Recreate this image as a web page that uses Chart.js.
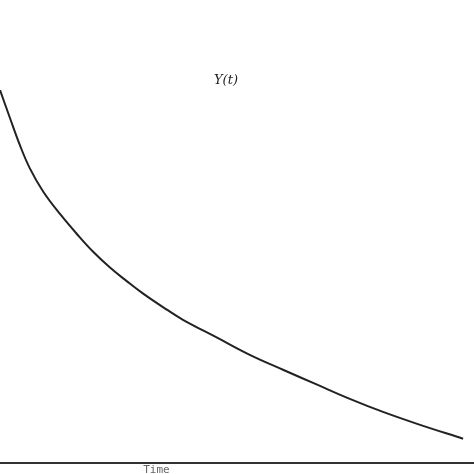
<!DOCTYPE html>
<html>
<head>
<title>Y(t)</title>
<script src="https://cdn.jsdelivr.net/npm/chart.js"></script>
<style>
  html, body { margin: 0; padding: 0; background: #fff; }
  #wrap { width: 474px; height: 474px; }
</style>
</head>
<body>
<div id="wrap"><canvas id="myChart"></canvas></div>
<script>
  // Werte
  const zeit = [0, 0.21, 0.42, 0.63, 0.91, 1.27, 1.65, 1.96, 2.32, 2.68, 3.02, 3.52, 3.86, 4.58, 5.27, 5.97, 6.69, 7.38, 8.08, 8.80, 9.77];
  const yWerte = [1.000, 0.925, 0.852, 0.790, 0.728, 0.667, 0.610, 0.567, 0.524, 0.487, 0.454, 0.411, 0.384, 0.336, 0.290, 0.250, 0.210, 0.172, 0.137, 0.105, 0.065];
  const titel = 'Y(t)';
  const xTitel = 'Time';

  // Titel und Achsenbeschriftung selbst zeichnen
  const beschriftung = {
    id: 'beschriftung',
    afterDraw(chart) {
      const c = chart.ctx;
      c.save();
      c.fillStyle = '#222';
      c.font = 'italic 13px "DejaVu Serif"';
      c.textAlign = 'center';
      c.textBaseline = 'middle';
      c.fillText(titel, 226, 81);
      c.fillStyle = '#666';
      c.font = '11px "DejaVu Sans Mono"';
      c.fillText(xTitel, chart.scales.x.getPixelForValue(3.3), 470);
      c.restore();
    }
  };

  const ctx = document.getElementById('myChart').getContext('2d');
  const myChart = new Chart(ctx, {
    type: 'line',
    data: {
      datasets: [{
        data: zeit.map((t, i) => ({ x: t, y: yWerte[i] })),
        borderColor: '#222',
        borderWidth: 2,
        pointRadius: 0,
        tension: 0.4,
        fill: false
      }]
    },
    options: {
      responsive: true,
      maintainAspectRatio: false,
      animation: false,
      layout: { padding: { top: 90, bottom: 11, left: 0, right: 0 } },
      plugins: { legend: { display: false }, tooltip: { enabled: false } },
      scales: {
        x: {
          type: 'linear',
          min: 0,
          max: 10,
          grid: { display: false, drawTicks: false },
          border: { display: true, color: '#333', width: 2 },
          ticks: { display: false }
        },
        y: {
          min: 0,
          max: 1,
          display: false
        }
      }
    },
    plugins: [beschriftung]
  });
</script>
</body>
</html>
